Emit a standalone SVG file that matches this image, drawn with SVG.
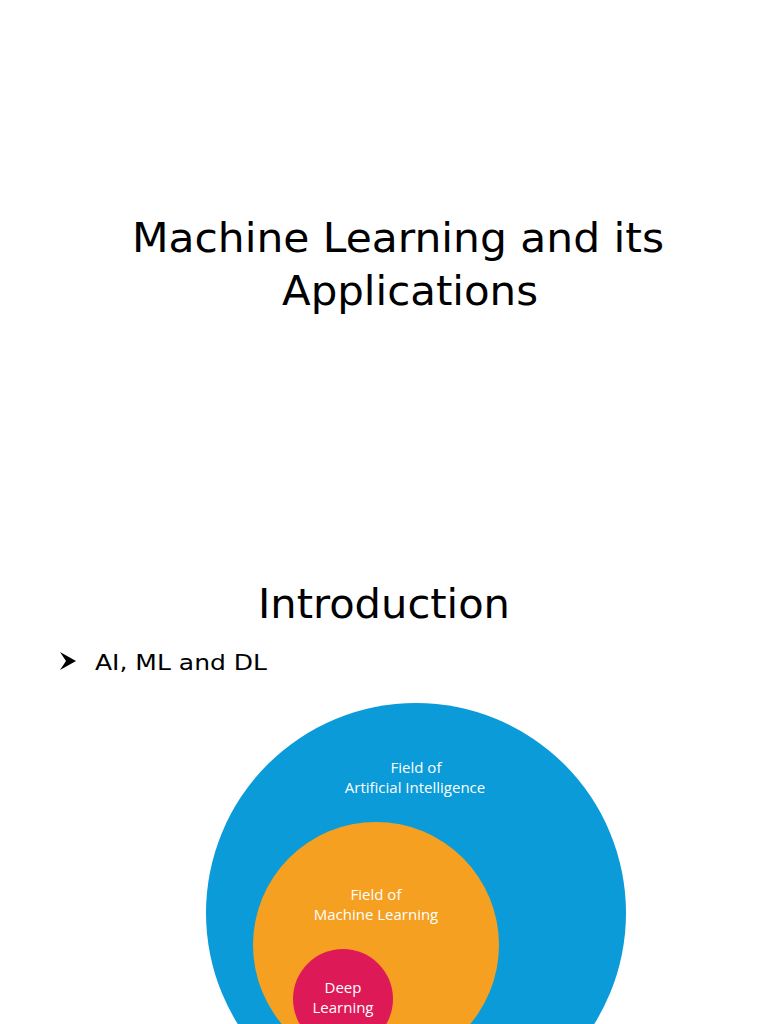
<svg xmlns="http://www.w3.org/2000/svg" width="768" height="1024" viewBox="0 0 768 1024">
<style>
.t{font-family:"DejaVu Sans",sans-serif;fill:#000}
.c{font-family:"Open Sans","Noto Sans",sans-serif;fill:#fff;text-anchor:middle;font-size:15px}
</style>
<rect width="768" height="1024" fill="#fff"/>
<g id="title">
<text class="t" x="398" y="252" font-size="40" text-anchor="middle" textLength="532" lengthAdjust="spacingAndGlyphs">Machine Learning and its</text>
<text class="t" x="410" y="305" font-size="40" text-anchor="middle" textLength="256" lengthAdjust="spacingAndGlyphs">Applications</text>
</g>
<g id="heading">
<text class="t" x="384" y="618" font-size="40" text-anchor="middle" textLength="252" lengthAdjust="spacingAndGlyphs">Introduction</text>
</g>
<g id="bullet">
<path d="M60,652 L76,661 L60,670 L66,661 Z" fill="#000"/>
<text class="t" x="95" y="670" font-size="22" textLength="172" lengthAdjust="spacingAndGlyphs">AI, ML and DL</text>
</g>
<g id="ai">
<circle cx="416" cy="913" r="210" fill="#0a9bd8"/>
<text class="c" x="416" y="773">Field of</text>
<text class="c" x="415" y="793">Artificial Intelligence</text>
</g>
<g id="ml">
<circle cx="376" cy="945" r="123" fill="#f5a020"/>
<text class="c" x="376" y="900">Field of</text>
<text class="c" x="376" y="920">Machine Learning</text>
</g>
<g id="dl">
<circle cx="343" cy="999" r="50" fill="#dd1a57"/>
<text class="c" x="343" y="993">Deep</text>
<text class="c" x="343" y="1013">Learning</text>
</g>
<g id="connectors"/>
</svg>
